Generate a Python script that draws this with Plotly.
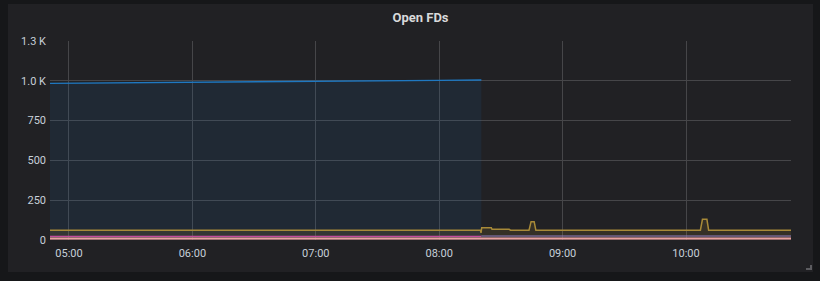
import plotly.graph_objects as go

DAY = "2024-01-01 "

# Blue series (ends ~08:20)
blue_times = ["04:50:46", "05:30", "06:00", "06:30", "07:00", "07:30", "08:00", "08:20:30"]
blue_vals = [984, 987, 990, 993, 996, 999, 1003, 1005]

# Yellow series
yellow_times = ["04:50:46", "08:20:00", "08:20:20", "08:20:40", "08:25:20", "08:25:40", "08:34:00", "08:34:40",
                "08:43:40", "08:44:40", "08:46:10", "08:47:00",
                "10:07:00", "10:08:00", "10:10:10", "10:11:00", "10:51:03"]
yellow_vals = [62, 62, 45, 77, 77, 67, 67, 62,
               62, 115, 115, 62,
               62, 130, 130, 62, 62]

# Magenta series (until ~08:20)
magenta_times = ["04:50:46", "08:20:30"]
magenta_vals = [23, 23]

# Lavender series (from ~08:20)
lavender_times = ["08:20:30", "10:51:03"]
lavender_vals = [25, 25]

# Salmon series
salmon_times = ["04:50:46", "10:51:03"]
salmon_vals = [10, 10]

y_tickvals = [0, 250, 500, 750, 1000, 1250]
y_ticktext = ["0", "250", "500", "750", "1.0 K", "1.3 K"]

x_range = ["04:50:46", "10:51:03"]

def t(lst):
    return [DAY + s for s in lst]

series = [
    (blue_times, blue_vals, "#1F78C1", "rgba(31,120,193,0.10)", 1.3),
    (yellow_times, yellow_vals, "#A88A38", "rgba(234,184,57,0.10)", 1.5),
    (magenta_times, magenta_vals, "#C34C9E", "rgba(186,67,169,0.10)", 1.2),
    (lavender_times, lavender_vals, "#8F7DBF", "rgba(112,93,160,0.10)", 1.2),
    (salmon_times, salmon_vals, "#E8A0A0", "rgba(242,145,145,0.10)", 2.0),
]

fig = go.Figure()
for tm, vals, lc, fc, lw in series:
    fig.add_trace(go.Scatter(x=t(tm), y=vals, mode="lines",
                             line=dict(color=lc, width=lw),
                             fill="tozeroy", fillcolor=fc,
                             hoverinfo="skip", showlegend=False))

W, H = 820, 281
L, R, T, B = 50, 29, 41, 41
pw, ph = W - L - R, H - T - B

def px2x(px):
    return (px - L) / pw

def px2y(py):
    return (H - B - py) / ph

shapes = [
    dict(type="rect", xref="paper", yref="paper",
         x0=px2x(8), x1=px2x(813), y0=px2y(272), y1=px2y(4),
         fillcolor="#212124", line=dict(width=0), layer="below"),
    dict(type="rect", xref="paper", yref="paper",
         x0=px2x(810), x1=px2x(812), y0=px2y(270), y1=px2y(265),
         fillcolor="#5c5c60", line=dict(width=0), layer="above"),
    dict(type="rect", xref="paper", yref="paper",
         x0=px2x(806), x1=px2x(812), y0=px2y(270), y1=px2y(268),
         fillcolor="#5c5c60", line=dict(width=0), layer="above"),
]

fig.update_layout(
    width=W, height=H,
    margin=dict(l=L, r=R, t=T, b=B),
    paper_bgcolor="#161719",
    plot_bgcolor="rgba(0,0,0,0)",
    font=dict(family="Roboto", color="#c7d0d9", size=11),
    title=dict(text="<b>Open FDs</b>", x=0.5, xref="paper", xanchor="center",
               y=1 - 17.5 / H, yref="container", yanchor="middle",
               font=dict(family="Roboto", size=13, color="#d8d9da")),
    shapes=shapes,
    xaxis=dict(type="date", range=t(x_range), showgrid=True, gridcolor="#464649",
               gridwidth=1, zeroline=False, showline=False, dtick=3600000,
               tickformat="%H:%M", ticks="", ticklabelstandoff=5,
               tickfont=dict(size=11, color="#c7d0d9")),
    yaxis=dict(range=[0, 1250], tickvals=y_tickvals, ticktext=y_ticktext,
               showgrid=True, gridcolor="#464649", gridwidth=1, zeroline=False,
               showline=False, ticks="", ticklabelstandoff=3,
               tickfont=dict(size=11, color="#c7d0d9")),
)

fig.write_html("out.html")
